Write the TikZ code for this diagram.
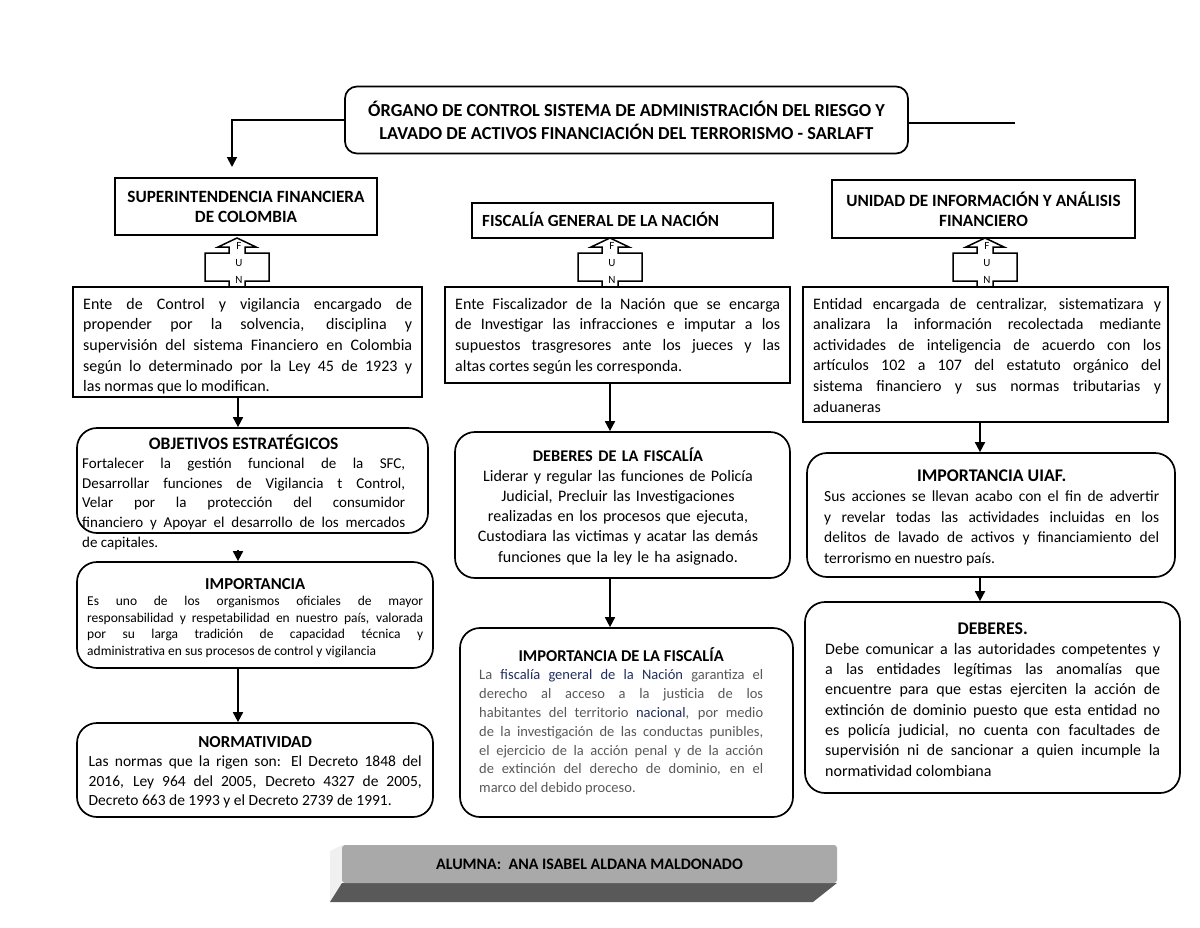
\documentclass[tikz,border=0pt]{standalone}
\usepackage{fontspec}
\setmainfont{Carlito}
\usetikzlibrary{arrows.meta}
\setlength{\parindent}{0pt}
\setlength{\parskip}{0pt}
\hbadness=10000 \hfuzz=30pt \tolerance=10000
\definecolor{txtgray}{HTML}{595959}
\definecolor{navy}{HTML}{1F2F5E}
\definecolor{banlight}{HTML}{A9A9A9}
\definecolor{bandark}{HTML}{595959}
\newcommand{\nl}{\linebreak}
\newcommand{\fsz}[2]{\fontsize{#1}{#2}\selectfont}
\newcommand{\hd}[2]{\makebox[\linewidth]{\fsz{#1}{#1}\bfseries #2}\par}
\begin{document}
\begin{tikzpicture}[x=1pt,y=-1pt,
  box/.style={draw, line width=1.7pt, inner sep=0pt, fill=white},
  rbox/.style={box, rounded corners=20pt},
  hdr/.style={box, font=\fsz{17.2}{20}\bfseries, align=center},
  txt/.style={inner sep=0pt, anchor=base west, align=justify},
  ctxt/.style={inner sep=0pt, anchor=base, align=center},
  arr/.style={line width=1.7pt, -{Triangle[width=10pt,length=10pt]}},
  plain/.style={line width=1.3pt},
  funshape/.style={draw, line width=1.5pt, fill=white},
  funtxt/.style={font=\fsz{11}{17}, align=center, inner sep=0pt}]
\useasboundingbox (0,0) rectangle (1200,927);

% top title
\node[box, rounded corners=12pt, minimum width=563pt, minimum height=67pt,
      font=\fsz{18.3}{23}\bfseries, align=center] (title) at (626.5,120)
  {ÓRGANO DE CONTROL SISTEMA DE ADMINISTRACIÓN DEL RIESGO Y\\LAVADO DE ACTIVOS FINANCIACIÓN DEL TERRORISMO - SARLAFT};
\coordinate (cl) at (232,167);
\coordinate (cr) at (1015,123);
\draw[arr] (title.west) -| (cl);
\draw[plain] (title.east |- cr) -- (cr);

% FUN arrows
\foreach \cx/\nm in {237/fun1, 610/fun2, 985/fun3}{
  \draw[funshape] (\cx,238) -- (\cx+19,247) -- (\cx+8,247) -- (\cx+8,253) -- (\cx+32,253) -- (\cx+32,281) -- (\cx+8,281) -- (\cx+8,287) -- (\cx+19,287) -- (\cx,296) -- (\cx-19,287) -- (\cx-8,287) -- (\cx-8,281) -- (\cx-32,281) -- (\cx-32,253) -- (\cx-8,253) -- (\cx-8,247) -- (\cx-19,247) -- cycle;
  \node[funtxt] (\nm) at (\cx+2,263) {F\\U\\N};
}

% headers
\node[hdr, minimum width=262pt, minimum height=57pt] (sfc) at (246,206.5)
  {SUPERINTENDENCIA FINANCIERA\\DE COLOMBIA};
\node[box, minimum width=301pt, minimum height=35pt] (fis) at (622.5,220.5) {};
\node[inner sep=0pt, anchor=base west, font=\fsz{17}{20}\bfseries] (fist) at (482,226) {FISCALÍA GENERAL DE LA NACIÓN};
\node[hdr, minimum width=303pt, minimum height=58pt] (uiaf) at (983.5,209)
  {UNIDAD DE INFORMACIÓN Y ANÁLISIS\\FINANCIERO};

% description boxes
\node[box, minimum width=349pt, minimum height=110pt] (desc1) at (247.5,342) {};
\node[txt, font=\fsz{16}{20.7}, text width=329pt] (desc1t) at (83,309)
  {Ente de Control y vigilancia encargado de\nl propender por la solvencia, disciplina y\nl supervisión del sistema Financiero en Colombia\nl según lo determinado por la Ley 45 de 1923 y\nl las normas que lo modifican.};
\node[box, minimum width=345pt, minimum height=96pt] (desc2) at (617.5,335) {};
\node[txt, font=\fsz{16}{20.8}, text width=325pt] (desc2t) at (455,309)
  {Ente Fiscalizador de la Nación que se encarga\nl de Investigar las infracciones e imputar a los\nl supuestos trasgresores ante los jueces y las\nl altas cortes según les corresponda.};
\node[box, minimum width=365pt, minimum height=135pt] (desc3) at (985.5,354.5) {};
\node[txt, font=\fsz{16}{20.6}, text width=348pt] (desc3t) at (813,309)
  {Entidad encargada de centralizar, sistematizara y\nl analizara la información recolectada mediante\nl actividades de inteligencia de acuerdo con los\nl artículos 102 a 107 del estatuto orgánico del\nl sistema financiero y sus normas tributarias y\nl aduaneras};

% left column
\node[rbox, minimum width=351pt, minimum height=105pt] (obj) at (252.5,480.5) {};
\node[txt, font=\fsz{15}{19.6}, text width=323pt] (objt) at (82,449)
  {\hd{17.5}{OBJETIVOS ESTRATÉGICOS}Fortalecer la gestión funcional de la SFC,\nl Desarrollar funciones de Vigilancia t Control,\nl Velar por la protección del consumidor\nl financiero y Apoyar el desarrollo de los mercados\nl de capitales.};
\node[rbox, minimum width=356pt, minimum height=106pt] (imp1) at (255,615) {};
\node[txt, font=\fsz{13.5}{16.6}, text width=336pt] (imp1t) at (87,589)
  {\hd{16.7}{IMPORTANCIA}Es uno de los organismos oficiales de mayor\nl responsabilidad y respetabilidad en nuestro país, valorada\nl por su larga tradición de capacidad técnica y\nl administrativa en sus procesos de control y vigilancia};
\node[rbox, minimum width=356pt, minimum height=94pt] (norm) at (255,770) {};
\node[txt, font=\fsz{15.5}{19.5}, text width=333pt] (normt) at (88.5,747)
  {\hd{16.8}{NORMATIVIDAD}Las normas que la rigen son: El Decreto 1848 del\nl 2016, Ley 964 del 2005, Decreto 4327 de 2005,\nl Decreto 663 de 1993 y el Decreto 2739 de 1991.};

% middle column
\node[rbox, minimum width=335pt, minimum height=146pt] (deb2) at (622.5,505) {};
\node[ctxt, font=\fsz{16}{20.2}, text width=320pt] (deb2t) at (618,461)
  {{\fsz{16.3}{20.2}\bfseries DEBERES DE LA FISCALÍA}\\Liderar y regular las funciones de Policía\\Judicial, Precluir las Investigaciones\\realizadas en los procesos que ejecuta,\\Custodiara las victimas y acatar las demás\\funciones que la ley le ha asignado.};
\node[rbox, minimum width=333pt, minimum height=189pt] (imp2) at (626.5,722.5) {};
\node[txt, font=\fsz{14.5}{18.8}, text width=284pt, text=txtgray] (imp2t) at (479,661)
  {\hd{16.5}{\color{black}IMPORTANCIA DE LA FISCALÍA}La {\color{navy}fiscalía general de la Nación} garantiza el\nl derecho al acceso a la justicia de los\nl habitantes del territorio {\color{navy}nacional}, por medio\nl de la investigación de las conductas punibles,\nl el ejercicio de la acción penal y de la acción\nl de extinción del derecho de dominio, en el\nl marco del debido proceso.};

% right column
\node[rbox, minimum width=368pt, minimum height=124pt] (imp3) at (991,515) {};
\node[txt, font=\fsz{15.5}{20.5}, text width=335pt] (imp3t) at (824,481)
  {\hd{17.8}{IMPORTANCIA UIAF.}Sus acciones se llevan acabo con el fin de advertir\nl y revelar todas las actividades incluidas en los\nl delitos de lavado de activos y financiamiento del\nl terrorismo en nuestro país.};
\node[rbox, minimum width=375pt, minimum height=191pt] (deb3) at (992.5,697.5) {};
\node[txt, font=\fsz{16}{20.3}, text width=335pt] (deb3t) at (825,634)
  {\hd{17.8}{DEBERES.}Debe comunicar a las autoridades competentes y\nl a las entidades legítimas las anomalías que\nl encuentre para que estas ejerciten la acción de\nl extinción de dominio puesto que esta entidad no\nl es policía judicial, no cuenta con facultades de\nl supervisión ni de sancionar a quien incumple la\nl normatividad colombiana};

% connectors
\coordinate (lx) at (238,0);
\coordinate (mx) at (610,0);
\coordinate (rx) at (980,0);
\draw[arr] (desc1.south -| lx) -- (obj.north -| lx);
\draw[arr] (objt.south -| lx) -- (imp1.north -| lx);
\draw[arr] (imp1.south -| lx) -- (norm.north -| lx);
\draw[arr] (desc2.south -| mx) -- (deb2.north -| mx);
\draw[arr] (deb2.south -| mx) -- (imp2.north -| mx);
\draw[arr] (desc3.south -| rx) -- (imp3.north -| rx);
\draw[arr] (imp3.south -| rx) -- (deb3.north -| rx);

% banner
\fill[gray!12] (330,851) -- (342,845) -- (342,883) -- (330,902) -- cycle;
\fill[bandark] (342,883) -- (837,883) -- (813,902) -- (330,902) -- cycle;
\fill[banlight, rounded corners=3pt] (342,845) rectangle (837,883);
\node[font=\fsz{16}{18}\bfseries, inner sep=0pt] (ban) at (589.5,864) {ALUMNA:\ \ ANA ISABEL ALDANA MALDONADO};
\end{tikzpicture}
\end{document}
